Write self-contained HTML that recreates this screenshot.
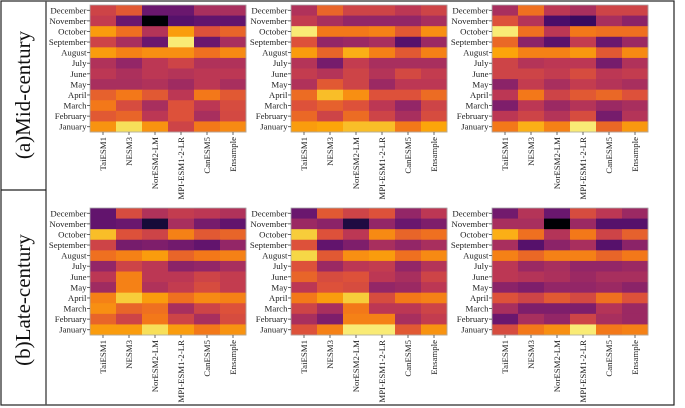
<!DOCTYPE html>
<html><head><meta charset="utf-8">
<style>
html,body{margin:0;padding:0;background:#fff;}
svg{display:block;font-family:"Liberation Serif","DejaVu Serif",serif;}
</style></head>
<body>
<svg id="fig" width="685" height="408" viewBox="0 0 685 408" xmlns="http://www.w3.org/2000/svg">
<rect x="1" y="1" width="673" height="404" fill="none" stroke="#222" stroke-width="1.2"/>
<line x1="46" y1="1" x2="46" y2="405" stroke="#555" stroke-width="1.5"/>
<line x1="1" y1="190" x2="46" y2="190" stroke="#222" stroke-width="1.2"/>
<text transform="translate(30,95) rotate(-90)" text-anchor="middle" font-size="21" fill="#111">(a)Mid-century</text>
<text transform="translate(30,300) rotate(-90)" text-anchor="middle" font-size="21" fill="#111">(b)Late-century</text>
</svg>
<script>
const months=["December","November","October","September","August","July","June","May","April","March","February","January"];
const models=["TaiESM1","NESM3","NorESM2-LM","MPI-ESM1-2-LR","CanESM5","Ensample"];
const midA=[[0.55,0.62,0.3,0.3,0.45,0.45],[0.52,0.3,0.0,0.25,0.28,0.28],[0.78,0.68,0.48,0.78,0.6,0.65],[0.55,0.45,0.3,0.95,0.3,0.45],[0.78,0.72,0.75,0.75,0.68,0.74],[0.47,0.4,0.5,0.55,0.47,0.47],[0.5,0.46,0.5,0.48,0.5,0.5],[0.45,0.45,0.47,0.43,0.5,0.45],[0.64,0.7,0.62,0.5,0.7,0.62],[0.7,0.58,0.45,0.6,0.5,0.58],[0.62,0.65,0.5,0.6,0.45,0.57],[0.76,0.92,0.76,0.55,0.7,0.74]];
const midB=[[0.47,0.65,0.55,0.55,0.5,0.55],[0.52,0.45,0.4,0.4,0.4,0.45],[0.95,0.7,0.7,0.72,0.62,0.75],[0.6,0.4,0.42,0.45,0.25,0.42],[0.78,0.65,0.82,0.72,0.62,0.72],[0.48,0.33,0.52,0.45,0.45,0.45],[0.52,0.48,0.55,0.48,0.57,0.52],[0.47,0.62,0.55,0.42,0.5,0.5],[0.67,0.85,0.75,0.6,0.6,0.67],[0.6,0.64,0.6,0.5,0.4,0.55],[0.66,0.55,0.67,0.55,0.45,0.58],[0.78,0.8,0.85,0.85,0.7,0.8]];
const midC=[[0.45,0.68,0.5,0.45,0.55,0.55],[0.6,0.48,0.22,0.18,0.45,0.38],[0.95,0.68,0.5,0.7,0.68,0.68],[0.66,0.38,0.26,0.52,0.3,0.42],[0.8,0.72,0.72,0.77,0.62,0.74],[0.55,0.48,0.5,0.5,0.33,0.47],[0.55,0.55,0.52,0.58,0.5,0.52],[0.38,0.52,0.45,0.52,0.48,0.45],[0.5,0.7,0.55,0.62,0.66,0.6],[0.35,0.5,0.42,0.48,0.42,0.45],[0.5,0.55,0.48,0.58,0.33,0.48],[0.7,0.82,0.72,0.95,0.66,0.77]];
const lateA=[[0.28,0.58,0.47,0.52,0.5,0.47],[0.28,0.3,0.1,0.45,0.33,0.28],[0.85,0.6,0.55,0.72,0.62,0.65],[0.55,0.33,0.35,0.32,0.28,0.4],[0.68,0.72,0.78,0.65,0.7,0.72],[0.4,0.55,0.5,0.38,0.4,0.45],[0.5,0.72,0.5,0.5,0.55,0.52],[0.43,0.72,0.47,0.52,0.58,0.52],[0.72,0.88,0.78,0.68,0.74,0.72],[0.75,0.65,0.68,0.45,0.55,0.6],[0.65,0.55,0.7,0.55,0.45,0.58],[0.78,0.78,0.92,0.78,0.7,0.76]];
const lateB=[[0.3,0.62,0.55,0.6,0.4,0.5],[0.42,0.38,0.12,0.4,0.3,0.35],[0.88,0.6,0.5,0.74,0.65,0.68],[0.6,0.28,0.35,0.45,0.4,0.45],[0.9,0.62,0.75,0.78,0.68,0.74],[0.6,0.42,0.5,0.52,0.4,0.48],[0.65,0.58,0.6,0.5,0.45,0.55],[0.5,0.6,0.58,0.4,0.42,0.5],[0.7,0.78,0.88,0.58,0.7,0.72],[0.55,0.45,0.7,0.5,0.5,0.55],[0.45,0.35,0.72,0.72,0.45,0.52],[0.6,0.72,0.95,0.95,0.62,0.76]];
const lateC=[[0.32,0.48,0.3,0.58,0.5,0.42],[0.45,0.45,0.0,0.42,0.25,0.25],[0.82,0.68,0.48,0.7,0.55,0.64],[0.45,0.25,0.38,0.45,0.25,0.38],[0.72,0.66,0.72,0.72,0.65,0.7],[0.5,0.42,0.45,0.4,0.4,0.42],[0.5,0.48,0.46,0.42,0.45,0.45],[0.38,0.35,0.4,0.4,0.42,0.38],[0.6,0.55,0.62,0.57,0.68,0.6],[0.45,0.35,0.35,0.35,0.48,0.42],[0.3,0.45,0.4,0.55,0.45,0.42],[0.58,0.7,0.75,0.95,0.7,0.72]];

const stops=[[0,0,0,4],[0.1,22,11,57],[0.2,66,10,104],[0.3,106,23,110],[0.4,147,38,103],[0.5,188,55,84],[0.6,221,81,58],[0.7,243,120,25],[0.8,252,165,10],[0.9,246,215,70],[1,252,255,164]];
function inferno(v){v=Math.max(0,Math.min(1,v));for(let i=1;i<stops.length;i++){if(v<=stops[i][0]){const a=stops[i-1],b=stops[i],t=(v-a[0])/(b[0]-a[0]);return`rgb(${Math.round(a[1]+t*(b[1]-a[1]))},${Math.round(a[2]+t*(b[2]-a[2]))},${Math.round(a[3]+t*(b[3]-a[3]))})`;}}return"rgb(252,255,164)";}
const NS="http://www.w3.org/2000/svg";
const svg=document.getElementById("fig");
function mk(tag,attrs,parent){const e=document.createElementNS(NS,tag);for(const k in attrs)e.setAttribute(k,attrs[k]);(parent||svg).appendChild(e);return e;}
const panels=[{d:midA,x:90,y:5,n:"mid-a"},{d:midB,x:291,y:5,n:"mid-b"},{d:midC,x:492,y:5,n:"mid-c"},{d:lateA,x:90,y:208,n:"late-a"},{d:lateB,x:291,y:208,n:"late-b"},{d:lateC,x:492,y:208,n:"late-c"}];
const W=156,H=127;
panels.forEach(p=>{
  const g=mk("g",{});
  
  
  const cw=W/models.length,ch=H/months.length;
  const xs=j=>p.x+j*cw, ys=i=>p.y+i*ch;
  p.d.forEach((row,i)=>row.forEach((v,j)=>{
    const r=mk("rect",{x:xs(j),y:ys(i),width:cw+0.4,height:ch+0.4,fill:inferno(v)},g);
    
    
  }));
  mk("rect",{x:p.x,y:p.y,width:W,height:H,fill:"none",stroke:"#aaa","stroke-width":0.8},g);
  months.forEach((m,i)=>{
    const yc=ys(i)+ch/2;
    mk("line",{x1:p.x-3,y1:yc,x2:p.x,y2:yc,stroke:"#444","stroke-width":0.8},g);
    const t=mk("text",{x:p.x-3.5,y:yc+3,"text-anchor":"end","font-size":"8.8",fill:"#222"},g);
    t.textContent=m;
    
    
  });
  models.forEach((m,j)=>{
    const xc=xs(j)+cw/2,yb=p.y+H;
    mk("line",{x1:xc,y1:yb,x2:xc,y2:yb+3,stroke:"#444","stroke-width":0.8},g);
    const t=mk("text",{transform:`translate(${xc+3},${yb+5}) rotate(-90)`,"text-anchor":"end","font-size":"8.8",fill:"#222"},g);
    t.textContent=m;
    
    
  });
});
</script>
</body></html>
